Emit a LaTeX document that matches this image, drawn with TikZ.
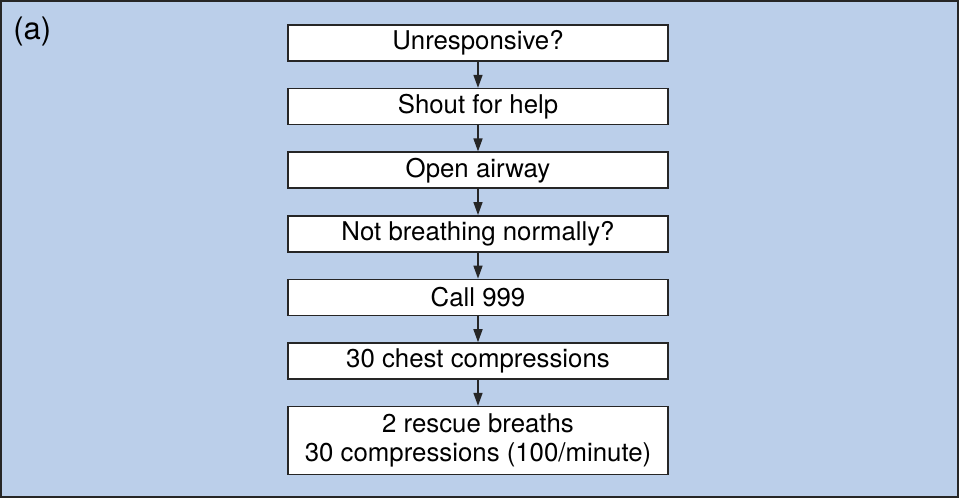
\documentclass[tikz,border=0pt]{standalone}
\usepackage{fontspec}
\setmainfont{TeX Gyre Heros}
\usepackage{tikz}
\usetikzlibrary{arrows.meta}
\usetikzlibrary{positioning}
\definecolor{panelblue}{RGB}{187,207,234}
\definecolor{framegray}{RGB}{38,38,38}

\begin{document}
\begin{tikzpicture}[
x=1pt,y=1pt,
StepBox/.style={draw=framegray,fill=white,line width=0.75pt,minimum width=190pt,minimum height=18pt,inner sep=0pt,align=center,font=\fontsize{12.9}{14.2}\selectfont},
Arrows/.style={-{Triangle[length=6.5pt, width=4.5pt]},framegray,line width=0.75pt},
node distance=13.05pt
]
%\grid;
\fill[panelblue] (0,0) rectangle (479.5,249);
\draw[framegray,line width=1pt] (0.5,0.5) rectangle (479,248.5);

\node[anchor=base west,inner sep=0pt,font=\fontsize{15.5}{18}\selectfont] (Label) at (6.5,229) {(a)};

\coordinate (Top) at (239,227.5);
\node[StepBox] (Unresp) at (Top) {Unresponsive?};
\node[StepBox,below=of Unresp] (Shout) {Shout for help};
\node[StepBox,below=of Shout] (Airway) {Open airway};
\node[StepBox,below=of Airway] (Breath) {Not breathing normally?};
\node[StepBox,below=of Breath] (Call) {Call 999};
\node[StepBox,below=of Call] (Chest) {30 chest compressions};
\node[StepBox,minimum height=34pt,below=of Chest] (Rescue) {2 rescue breaths\\30 compressions (100/minute)};

\draw[Arrows] (Unresp.south)--(Shout.north);
\draw[Arrows] (Shout.south)--(Airway.north);
\draw[Arrows] (Airway.south)--(Breath.north);
\draw[Arrows] (Breath.south)--(Call.north);
\draw[Arrows] (Call.south)--(Chest.north);
\draw[Arrows] (Chest.south)--(Rescue.north);

\end{tikzpicture}
\end{document}
